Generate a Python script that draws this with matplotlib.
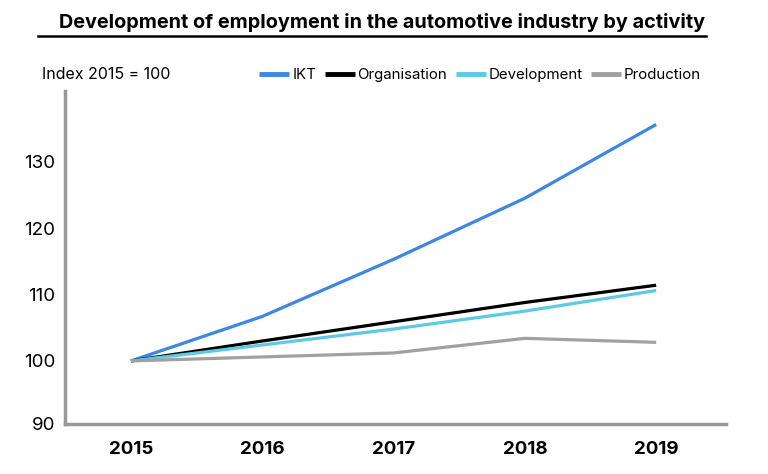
import matplotlib
matplotlib.use("Agg")
import matplotlib.pyplot as plt
from matplotlib.lines import Line2D

plt.rcParams['font.family'] = ['Inter', 'DejaVu Sans']

years = ['2015', '2016', '2017', '2018', '2019']
ikt = [100, 106.7, 115.3, 124.5, 135.6]
organisation = [100, 103.0, 105.9, 108.8, 111.4]
development = [100, 102.4, 104.8, 107.5, 110.6]
production = [100, 100.6, 101.2, 103.4, 102.8]

series = [
    ('IKT', ikt, '#3b86e6'),
    ('Organisation', organisation, '#000000'),
    ('Development', development, '#5cc9e6'),
    ('Production', production, '#a0a0a0'),
]

fig = plt.figure(figsize=(7.68, 4.74), dpi=100)
ax = fig.add_axes([0.085, 0.105, 0.86, 0.703])

x = range(len(years))
for name, vals, col in series:
    ax.plot(x, vals, color=col, lw=2.3, label=name, solid_capstyle='butt')

ax.set_xlim(-0.5, 4.53)
ax.set_ylim(90.47, 140.64)
ax.set_yticks([100, 110, 120, 130])
ax.set_xticks(list(x))
ax.set_xticklabels(years, fontweight='bold', fontsize=13.5)
ax.tick_params(axis='y', labelsize=13.5, length=0, pad=7)
ax.tick_params(axis='x', length=0, pad=12)
# bottom label of the axis sits at the spine
ax.annotate('90', xy=(0, 0), xycoords='axes fraction', xytext=(-7, -1),
            textcoords='offset points', ha='right', va='center', fontsize=13.5)

for s in ['top', 'right']:
    ax.spines[s].set_visible(False)
for s in ['left', 'bottom']:
    ax.spines[s].set_color('#999999')
    ax.spines[s].set_linewidth(2.5)

# title with underline
fig.text(0.497, 0.953, 'Development of employment in the automotive industry by activity',
         ha='center', va='center', fontsize=14.3, fontweight='bold')
fig.add_artist(Line2D([0.05, 0.919], [0.923, 0.923], color='black', lw=1.8))

fig.text(0.055, 0.843, 'Index 2015 = 100', ha='left', va='center', fontsize=11.5)

leg = ax.legend(loc='center left', bbox_to_anchor=(0.294, 1.047), ncol=4, frameon=False,
                fontsize=10.8, handlelength=2.0, handletextpad=0.2, columnspacing=0.55,
                borderaxespad=0, borderpad=0)
for h in leg.legend_handles:
    h.set_linewidth(3.5)

fig.savefig('out.png', dpi=100)
